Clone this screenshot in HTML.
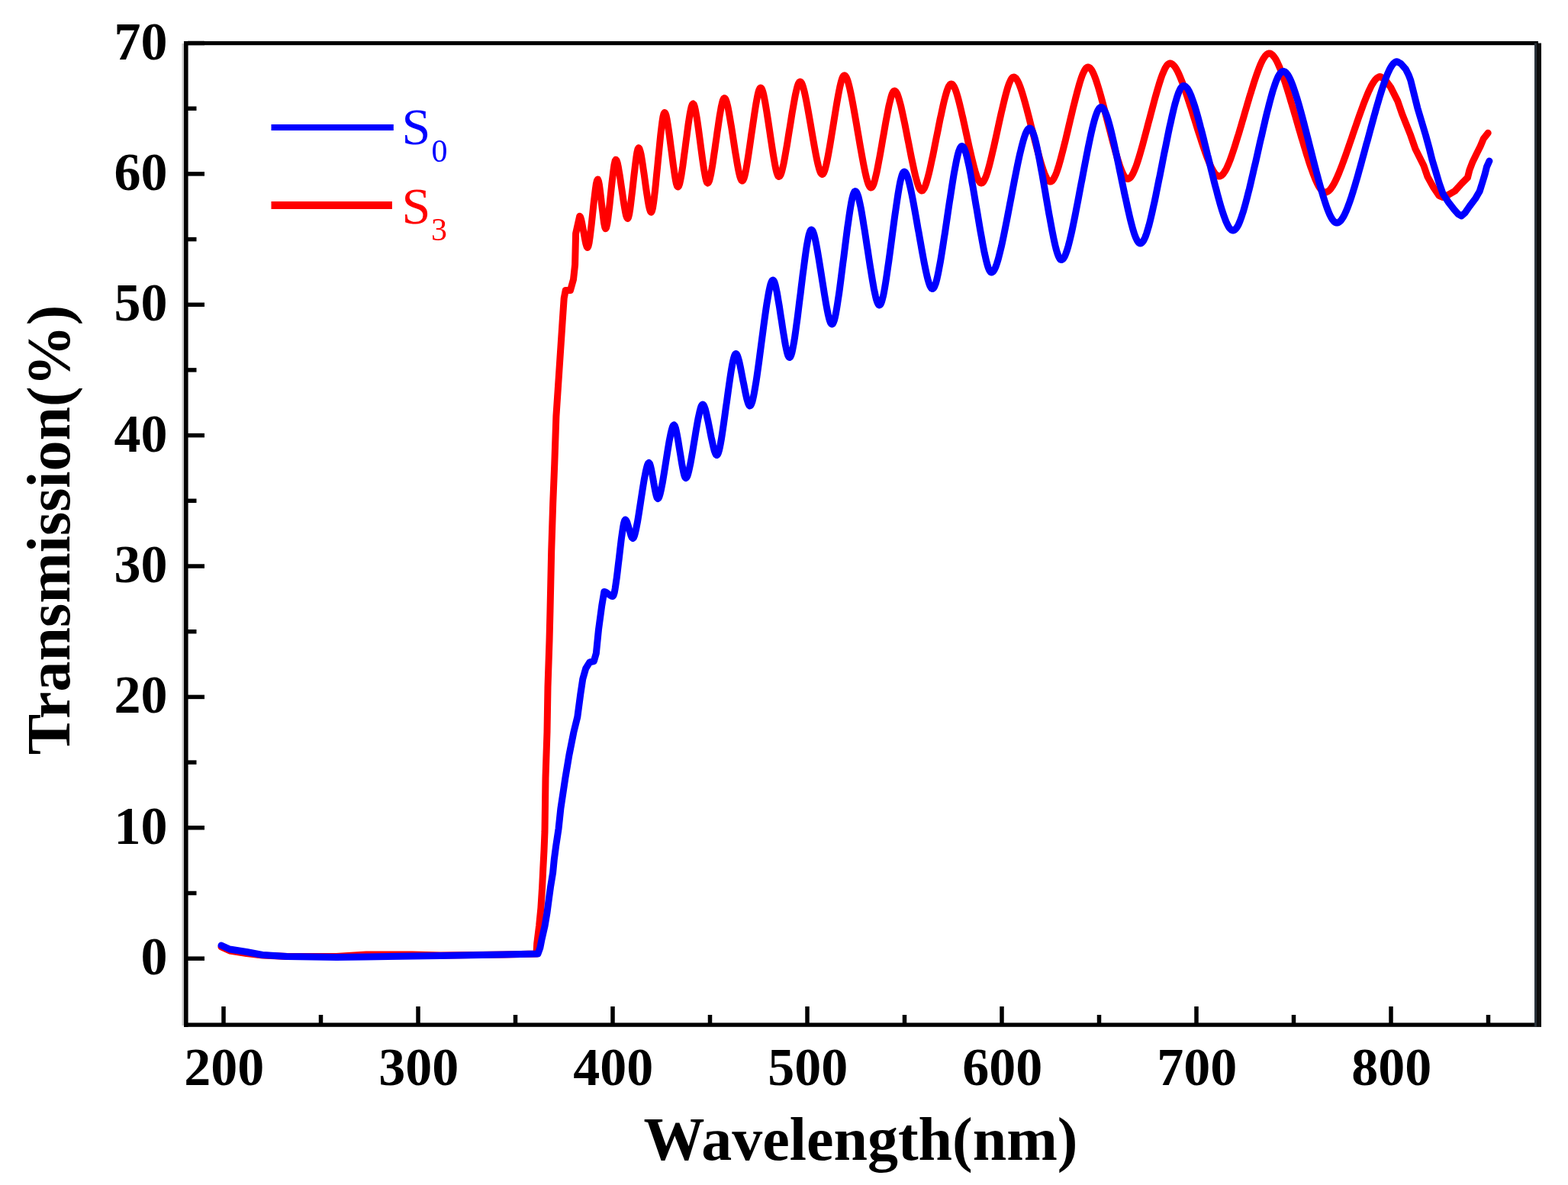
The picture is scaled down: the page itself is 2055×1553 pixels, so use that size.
<!DOCTYPE html>
<html><head><meta charset="utf-8"><style>
html,body{margin:0;padding:0;background:#fff;overflow:hidden;}
svg{display:block;}
text{font-family:"Liberation Serif","Times New Roman",serif;}
</style></head><body>
<svg width="2055" height="1553" viewBox="0 0 2055 1553">
<rect width="2055" height="1553" fill="#fff"/>
<path d="M290.0 1241.0 L301.0 1246.0 L323.0 1249.5 L344.0 1252.0 L376.0 1253.5 L441.0 1253.5 L480.0 1251.0 L540.0 1251.0 L577.0 1252.0 L660.0 1251.0 L703.0 1250.0 L703.7 1236.5 L706.6 1213.3 L708.9 1190.0 L710.7 1161.0 L711.8 1138.0 L713.0 1114.8 L714.0 1089.8 L715.0 1019.4 L717.0 959.5 L718.0 899.7 L720.0 839.9 L721.0 800.0 L722.7 721.9 L724.7 660.0 L726.8 607.4 L728.9 545.6 L733.0 483.7 L737.1 421.9 L739.2 390.9 L741.2 380.6 L747.5 380.6 L751.5 366.2 L753.6 347.0 L754.6 306.0 L759.7 283.3 L760.7 284.6 L761.8 288.1 L762.8 292.8 L763.8 298.2 L764.9 303.9 L765.9 309.6 L766.9 315.0 L767.9 319.7 L769.0 323.2 L770.0 324.5 L771.0 322.8 L772.1 318.1 L773.1 311.2 L774.1 303.0 L775.2 294.0 L776.2 284.5 L777.2 275.0 L778.2 265.5 L779.3 256.5 L780.3 248.3 L781.3 241.4 L782.4 236.7 L783.4 235.0 L784.4 237.1 L785.5 242.5 L786.5 250.0 L787.5 258.5 L788.5 267.4 L789.6 276.3 L790.6 284.8 L791.6 292.3 L792.7 297.7 L793.7 299.8 L794.7 298.1 L795.8 293.3 L796.8 286.3 L797.8 278.0 L798.9 268.9 L799.9 259.3 L800.9 249.7 L801.9 240.1 L803.0 231.0 L804.0 222.7 L805.0 215.7 L806.1 210.9 L807.1 209.2 L808.1 210.3 L809.2 213.4 L810.2 218.1 L811.2 223.9 L812.3 230.3 L813.3 237.2 L814.3 244.2 L815.4 251.4 L816.4 258.4 L817.4 265.3 L818.5 271.7 L819.5 277.5 L820.5 282.2 L821.6 285.3 L822.6 286.4 L823.6 284.9 L824.7 280.6 L825.7 274.3 L826.7 266.6 L827.7 258.2 L828.8 249.2 L829.8 240.0 L830.8 230.9 L831.9 221.9 L832.9 213.5 L833.9 205.8 L834.9 199.5 L836.0 195.2 L837.0 193.7 L838.0 194.8 L839.0 197.8 L840.1 202.4 L841.1 208.1 L842.1 214.5 L843.1 221.4 L844.2 228.6 L845.2 235.9 L846.2 243.3 L847.2 250.5 L848.3 257.4 L849.3 263.8 L850.3 269.5 L851.4 274.1 L852.4 277.1 L853.4 278.2 L854.4 276.7 L855.5 272.5 L856.5 266.1 L857.5 258.1 L858.6 249.0 L859.6 239.1 L860.6 228.7 L861.7 218.1 L862.7 207.5 L863.8 196.9 L864.8 186.5 L865.8 176.6 L866.9 167.5 L867.9 159.5 L868.9 153.1 L870.0 148.9 L871.0 147.4 L872.0 148.5 L873.1 151.6 L874.1 156.4 L875.1 162.4 L876.1 169.2 L877.2 176.6 L878.2 184.3 L879.2 192.2 L880.3 200.2 L881.3 208.1 L882.3 215.8 L883.4 223.2 L884.4 230.0 L885.4 236.0 L886.4 240.8 L887.5 243.9 L888.5 245.0 L889.5 244.0 L890.6 241.2 L891.6 236.8 L892.7 231.2 L893.7 224.7 L894.8 217.7 L895.8 210.2 L896.8 202.4 L897.9 194.5 L898.9 186.5 L900.0 178.6 L901.0 170.8 L902.0 163.3 L903.1 156.3 L904.1 149.8 L905.2 144.2 L906.2 139.8 L907.3 137.0 L908.3 136.0 L909.3 136.9 L910.3 139.6 L911.3 143.8 L912.3 149.2 L913.4 155.3 L914.4 162.1 L915.4 169.2 L916.4 176.6 L917.4 184.2 L918.4 191.8 L919.4 199.4 L920.4 206.8 L921.4 213.9 L922.4 220.7 L923.5 226.8 L924.5 232.2 L925.5 236.4 L926.5 239.1 L927.5 240.0 L928.5 239.2 L929.6 236.8 L930.6 233.0 L931.7 228.2 L932.7 222.5 L933.8 216.2 L934.8 209.5 L935.8 202.5 L936.9 195.3 L937.9 187.9 L939.0 180.6 L940.0 173.2 L941.1 166.0 L942.1 159.0 L943.1 152.3 L944.2 146.0 L945.2 140.3 L946.3 135.5 L947.3 131.7 L948.4 129.3 L949.4 128.5 L950.4 129.2 L951.4 131.1 L952.5 134.2 L953.5 138.3 L954.5 143.0 L955.5 148.4 L956.5 154.1 L957.5 160.2 L958.6 166.5 L959.6 173.0 L960.6 179.5 L961.6 186.0 L962.6 192.5 L963.6 199.0 L964.7 205.3 L965.7 211.4 L966.7 217.1 L967.7 222.5 L968.7 227.2 L969.7 231.3 L970.8 234.4 L971.8 236.3 L972.8 237.0 L973.8 236.3 L974.8 234.3 L975.8 231.1 L976.8 226.9 L977.8 221.8 L978.8 216.2 L979.8 210.1 L980.8 203.6 L981.8 196.9 L982.8 190.1 L983.8 183.1 L984.8 176.0 L985.9 168.9 L986.9 161.9 L987.9 155.1 L988.9 148.4 L989.9 141.9 L990.9 135.8 L991.9 130.2 L992.9 125.1 L993.9 120.9 L994.9 117.7 L995.9 115.7 L996.9 115.0 L997.9 115.7 L998.9 117.6 L999.9 120.7 L1000.9 124.7 L1001.9 129.5 L1002.9 134.9 L1003.9 140.7 L1004.9 146.8 L1005.9 153.3 L1006.9 159.8 L1007.9 166.5 L1008.9 173.2 L1009.9 180.0 L1010.9 186.7 L1011.9 193.2 L1012.9 199.7 L1013.9 205.8 L1014.9 211.6 L1015.9 217.0 L1016.9 221.8 L1017.9 225.8 L1018.9 228.9 L1019.9 230.8 L1020.9 231.5 L1021.9 230.9 L1023.0 229.3 L1024.0 226.7 L1025.0 223.2 L1026.0 219.0 L1027.1 214.2 L1028.1 208.9 L1029.1 203.3 L1030.1 197.5 L1031.2 191.4 L1032.2 185.2 L1033.2 178.8 L1034.2 172.5 L1035.3 166.0 L1036.3 159.7 L1037.3 153.3 L1038.3 147.1 L1039.4 141.0 L1040.4 135.2 L1041.4 129.6 L1042.4 124.3 L1043.5 119.5 L1044.5 115.3 L1045.5 111.8 L1046.5 109.2 L1047.6 107.6 L1048.6 107.0 L1049.6 107.5 L1050.6 108.9 L1051.6 111.1 L1052.6 114.1 L1053.6 117.8 L1054.6 121.9 L1055.6 126.5 L1056.6 131.4 L1057.6 136.6 L1058.6 142.0 L1059.6 147.6 L1060.6 153.3 L1061.6 159.0 L1062.6 164.8 L1063.6 170.7 L1064.6 176.5 L1065.6 182.2 L1066.6 187.9 L1067.6 193.5 L1068.6 198.9 L1069.6 204.1 L1070.6 209.0 L1071.6 213.6 L1072.6 217.7 L1073.6 221.4 L1074.6 224.4 L1075.6 226.6 L1076.6 228.0 L1077.6 228.5 L1078.6 228.0 L1079.6 226.5 L1080.6 224.1 L1081.6 220.9 L1082.6 217.0 L1083.6 212.6 L1084.6 207.7 L1085.6 202.4 L1086.6 196.8 L1087.6 191.1 L1088.6 185.1 L1089.6 179.1 L1090.6 172.9 L1091.6 166.7 L1092.6 160.5 L1093.6 154.3 L1094.6 148.1 L1095.6 142.1 L1096.6 136.1 L1097.6 130.4 L1098.6 124.8 L1099.6 119.5 L1100.6 114.6 L1101.6 110.2 L1102.6 106.3 L1103.6 103.1 L1104.6 100.7 L1105.6 99.2 L1106.6 98.7 L1107.6 99.1 L1108.6 100.3 L1109.6 102.2 L1110.6 104.7 L1111.6 107.9 L1112.6 111.6 L1113.6 115.7 L1114.6 120.2 L1115.6 125.0 L1116.6 130.1 L1117.6 135.4 L1118.6 140.8 L1119.6 146.4 L1120.6 152.0 L1121.6 157.8 L1122.6 163.6 L1123.6 169.4 L1124.6 175.3 L1125.6 181.1 L1126.6 186.9 L1127.6 192.7 L1128.6 198.3 L1129.6 203.9 L1130.6 209.3 L1131.6 214.6 L1132.6 219.7 L1133.6 224.5 L1134.6 229.0 L1135.6 233.1 L1136.6 236.8 L1137.6 240.0 L1138.6 242.5 L1139.6 244.4 L1140.6 245.6 L1141.6 246.0 L1142.6 245.5 L1143.6 244.2 L1144.7 242.0 L1145.7 239.0 L1146.7 235.4 L1147.7 231.3 L1148.8 226.8 L1149.8 221.9 L1150.8 216.7 L1151.8 211.3 L1152.9 205.7 L1153.9 200.0 L1154.9 194.2 L1155.9 188.4 L1156.9 182.5 L1158.0 176.6 L1159.0 170.8 L1160.0 165.0 L1161.0 159.3 L1162.1 153.7 L1163.1 148.3 L1164.1 143.1 L1165.1 138.2 L1166.2 133.7 L1167.2 129.6 L1168.2 126.0 L1169.2 123.0 L1170.3 120.8 L1171.3 119.5 L1172.3 119.0 L1173.3 119.4 L1174.3 120.4 L1175.4 122.1 L1176.4 124.4 L1177.4 127.2 L1178.4 130.5 L1179.4 134.1 L1180.5 138.1 L1181.5 142.4 L1182.5 146.9 L1183.5 151.6 L1184.5 156.4 L1185.6 161.4 L1186.6 166.4 L1187.6 171.5 L1188.6 176.7 L1189.6 181.9 L1190.7 187.1 L1191.7 192.3 L1192.7 197.5 L1193.7 202.6 L1194.7 207.6 L1195.8 212.6 L1196.8 217.4 L1197.8 222.1 L1198.8 226.6 L1199.8 230.9 L1200.9 234.9 L1201.9 238.5 L1202.9 241.8 L1203.9 244.6 L1204.9 246.9 L1206.0 248.6 L1207.0 249.6 L1208.0 250.0 L1209.0 249.7 L1210.0 248.7 L1211.1 247.2 L1212.1 245.1 L1213.1 242.5 L1214.1 239.5 L1215.1 236.0 L1216.1 232.3 L1217.2 228.2 L1218.2 224.0 L1219.2 219.5 L1220.2 214.9 L1221.2 210.1 L1222.3 205.3 L1223.3 200.3 L1224.3 195.3 L1225.3 190.2 L1226.3 185.1 L1227.3 180.0 L1228.4 174.9 L1229.4 169.8 L1230.4 164.7 L1231.4 159.7 L1232.4 154.7 L1233.5 149.9 L1234.5 145.1 L1235.5 140.5 L1236.5 136.0 L1237.5 131.8 L1238.6 127.7 L1239.6 124.0 L1240.6 120.5 L1241.6 117.5 L1242.6 114.9 L1243.6 112.8 L1244.7 111.3 L1245.7 110.3 L1246.7 110.0 L1247.7 110.3 L1248.7 111.1 L1249.7 112.5 L1250.7 114.3 L1251.8 116.6 L1252.8 119.3 L1253.8 122.4 L1254.8 125.7 L1255.8 129.3 L1256.8 133.1 L1257.8 137.1 L1258.8 141.3 L1259.8 145.5 L1260.8 149.9 L1261.9 154.4 L1262.9 158.9 L1263.9 163.5 L1264.9 168.1 L1265.9 172.7 L1266.9 177.3 L1267.9 181.9 L1268.9 186.5 L1269.9 191.1 L1270.9 195.6 L1272.0 200.1 L1273.0 204.5 L1274.0 208.7 L1275.0 212.9 L1276.0 216.9 L1277.0 220.7 L1278.0 224.3 L1279.0 227.6 L1280.0 230.7 L1281.0 233.4 L1282.1 235.7 L1283.1 237.5 L1284.1 238.9 L1285.1 239.7 L1286.1 240.0 L1287.1 239.7 L1288.1 239.0 L1289.1 237.7 L1290.1 236.0 L1291.1 233.8 L1292.2 231.3 L1293.2 228.4 L1294.2 225.3 L1295.2 221.8 L1296.2 218.2 L1297.2 214.4 L1298.2 210.4 L1299.2 206.2 L1300.2 202.0 L1301.2 197.7 L1302.3 193.2 L1303.3 188.8 L1304.3 184.2 L1305.3 179.7 L1306.3 175.1 L1307.3 170.5 L1308.3 165.9 L1309.3 161.3 L1310.3 156.8 L1311.3 152.2 L1312.3 147.8 L1313.4 143.3 L1314.4 139.0 L1315.4 134.8 L1316.4 130.6 L1317.4 126.6 L1318.4 122.8 L1319.4 119.2 L1320.4 115.7 L1321.4 112.6 L1322.4 109.7 L1323.5 107.2 L1324.5 105.0 L1325.5 103.3 L1326.5 102.0 L1327.5 101.3 L1328.5 101.0 L1329.5 101.2 L1330.5 101.8 L1331.5 102.7 L1332.5 104.1 L1333.5 105.7 L1334.5 107.7 L1335.5 109.9 L1336.5 112.4 L1337.5 115.1 L1338.5 118.0 L1339.5 121.1 L1340.5 124.3 L1341.5 127.7 L1342.5 131.2 L1343.5 134.8 L1344.5 138.5 L1345.5 142.2 L1346.5 146.0 L1347.5 149.8 L1348.5 153.7 L1349.5 157.6 L1350.5 161.6 L1351.5 165.5 L1352.5 169.5 L1353.6 173.5 L1354.6 177.4 L1355.6 181.4 L1356.6 185.3 L1357.6 189.2 L1358.6 193.0 L1359.6 196.8 L1360.6 200.5 L1361.6 204.2 L1362.6 207.8 L1363.6 211.3 L1364.6 214.7 L1365.6 217.9 L1366.6 221.0 L1367.6 223.9 L1368.6 226.6 L1369.6 229.1 L1370.6 231.3 L1371.6 233.3 L1372.6 234.9 L1373.6 236.3 L1374.6 237.2 L1375.6 237.8 L1376.6 238.0 L1377.6 237.8 L1378.6 237.2 L1379.6 236.2 L1380.6 234.8 L1381.6 233.0 L1382.6 231.0 L1383.7 228.6 L1384.7 226.0 L1385.7 223.1 L1386.7 220.0 L1387.7 216.8 L1388.7 213.3 L1389.7 209.7 L1390.7 206.0 L1391.7 202.2 L1392.7 198.3 L1393.7 194.3 L1394.7 190.3 L1395.8 186.2 L1396.8 182.0 L1397.8 177.8 L1398.8 173.6 L1399.8 169.4 L1400.8 165.1 L1401.8 160.9 L1402.8 156.6 L1403.8 152.4 L1404.8 148.2 L1405.8 144.0 L1406.8 139.8 L1407.9 135.7 L1408.9 131.7 L1409.9 127.7 L1410.9 123.8 L1411.9 120.0 L1412.9 116.3 L1413.9 112.7 L1414.9 109.2 L1415.9 106.0 L1416.9 102.9 L1417.9 100.0 L1418.9 97.4 L1420.0 95.0 L1421.0 93.0 L1422.0 91.2 L1423.0 89.8 L1424.0 88.8 L1425.0 88.2 L1426.0 88.0 L1427.0 88.2 L1428.0 88.7 L1429.0 89.6 L1430.0 90.8 L1431.0 92.3 L1432.0 94.1 L1433.0 96.2 L1434.0 98.5 L1435.0 101.1 L1436.0 103.8 L1437.0 106.7 L1438.0 109.8 L1439.0 113.0 L1440.0 116.3 L1441.0 119.7 L1442.0 123.2 L1443.0 126.8 L1444.0 130.5 L1445.0 134.2 L1446.0 138.0 L1447.0 141.8 L1448.0 145.7 L1449.0 149.5 L1450.0 153.4 L1451.0 157.3 L1452.0 161.2 L1453.1 165.2 L1454.1 169.1 L1455.1 173.0 L1456.1 176.8 L1457.1 180.7 L1458.1 184.5 L1459.1 188.3 L1460.1 192.0 L1461.1 195.7 L1462.1 199.3 L1463.1 202.8 L1464.1 206.2 L1465.1 209.5 L1466.1 212.7 L1467.1 215.8 L1468.1 218.7 L1469.1 221.4 L1470.1 224.0 L1471.1 226.3 L1472.1 228.4 L1473.1 230.2 L1474.1 231.7 L1475.1 232.9 L1476.1 233.8 L1477.1 234.3 L1478.1 234.5 L1479.1 234.3 L1480.1 233.8 L1481.1 233.0 L1482.1 231.9 L1483.1 230.5 L1484.1 228.8 L1485.1 226.9 L1486.1 224.7 L1487.1 222.3 L1488.2 219.7 L1489.2 217.0 L1490.2 214.1 L1491.2 211.0 L1492.2 207.9 L1493.2 204.6 L1494.2 201.2 L1495.2 197.8 L1496.2 194.3 L1497.2 190.7 L1498.2 187.1 L1499.2 183.4 L1500.2 179.6 L1501.2 175.9 L1502.2 172.1 L1503.2 168.3 L1504.2 164.5 L1505.2 160.7 L1506.3 156.8 L1507.3 153.0 L1508.3 149.2 L1509.3 145.4 L1510.3 141.6 L1511.3 137.9 L1512.3 134.1 L1513.3 130.4 L1514.3 126.8 L1515.3 123.2 L1516.3 119.7 L1517.3 116.3 L1518.3 112.9 L1519.3 109.6 L1520.3 106.5 L1521.3 103.4 L1522.3 100.5 L1523.3 97.8 L1524.4 95.2 L1525.4 92.8 L1526.4 90.6 L1527.4 88.7 L1528.4 87.0 L1529.4 85.6 L1530.4 84.5 L1531.4 83.7 L1532.4 83.2 L1533.4 83.0 L1534.4 83.1 L1535.4 83.5 L1536.4 84.1 L1537.4 84.9 L1538.4 85.9 L1539.5 87.2 L1540.5 88.6 L1541.5 90.2 L1542.5 92.0 L1543.5 93.9 L1544.5 96.0 L1545.5 98.2 L1546.5 100.6 L1547.5 103.0 L1548.5 105.6 L1549.6 108.2 L1550.6 110.9 L1551.6 113.7 L1552.6 116.6 L1553.6 119.5 L1554.6 122.5 L1555.6 125.5 L1556.6 128.5 L1557.6 131.6 L1558.6 134.7 L1559.6 137.8 L1560.7 141.0 L1561.7 144.2 L1562.7 147.4 L1563.7 150.6 L1564.7 153.8 L1565.7 157.0 L1566.7 160.2 L1567.7 163.4 L1568.7 166.6 L1569.7 169.8 L1570.7 173.0 L1571.8 176.2 L1572.8 179.3 L1573.8 182.4 L1574.8 185.5 L1575.8 188.5 L1576.8 191.5 L1577.8 194.5 L1578.8 197.4 L1579.8 200.3 L1580.8 203.1 L1581.8 205.8 L1582.9 208.4 L1583.9 211.0 L1584.9 213.4 L1585.9 215.8 L1586.9 218.0 L1587.9 220.1 L1588.9 222.0 L1589.9 223.8 L1590.9 225.4 L1591.9 226.8 L1593.0 228.1 L1594.0 229.1 L1595.0 229.9 L1596.0 230.5 L1597.0 230.9 L1598.0 231.0 L1599.0 230.9 L1600.0 230.5 L1601.0 229.9 L1602.0 229.0 L1603.0 227.9 L1604.0 226.6 L1605.0 225.1 L1606.0 223.4 L1607.1 221.5 L1608.1 219.4 L1609.1 217.2 L1610.1 214.9 L1611.1 212.4 L1612.1 209.8 L1613.1 207.1 L1614.1 204.3 L1615.1 201.4 L1616.1 198.4 L1617.1 195.4 L1618.1 192.3 L1619.1 189.1 L1620.1 185.9 L1621.1 182.7 L1622.1 179.4 L1623.2 176.1 L1624.2 172.7 L1625.2 169.3 L1626.2 165.9 L1627.2 162.5 L1628.2 159.1 L1629.2 155.7 L1630.2 152.2 L1631.2 148.8 L1632.2 145.3 L1633.2 141.9 L1634.2 138.5 L1635.2 135.1 L1636.2 131.7 L1637.2 128.3 L1638.2 124.9 L1639.3 121.6 L1640.3 118.3 L1641.3 115.1 L1642.3 111.9 L1643.3 108.7 L1644.3 105.6 L1645.3 102.6 L1646.3 99.6 L1647.3 96.7 L1648.3 93.9 L1649.3 91.2 L1650.3 88.6 L1651.3 86.1 L1652.3 83.8 L1653.3 81.6 L1654.3 79.5 L1655.4 77.6 L1656.4 75.9 L1657.4 74.4 L1658.4 73.1 L1659.4 72.0 L1660.4 71.1 L1661.4 70.5 L1662.4 70.1 L1663.4 70.0 L1664.4 70.1 L1665.4 70.4 L1666.4 71.0 L1667.4 71.8 L1668.4 72.8 L1669.4 74.0 L1670.5 75.3 L1671.5 76.9 L1672.5 78.6 L1673.5 80.5 L1674.5 82.6 L1675.5 84.8 L1676.5 87.1 L1677.5 89.5 L1678.5 92.1 L1679.5 94.7 L1680.5 97.5 L1681.5 100.3 L1682.6 103.2 L1683.6 106.2 L1684.6 109.2 L1685.6 112.3 L1686.6 115.5 L1687.6 118.7 L1688.6 121.9 L1689.6 125.2 L1690.6 128.5 L1691.6 131.9 L1692.6 135.2 L1693.6 138.6 L1694.7 142.0 L1695.7 145.5 L1696.7 148.9 L1697.7 152.3 L1698.7 155.8 L1699.7 159.3 L1700.7 162.7 L1701.7 166.2 L1702.7 169.7 L1703.7 173.1 L1704.7 176.5 L1705.7 180.0 L1706.8 183.4 L1707.8 186.8 L1708.8 190.1 L1709.8 193.5 L1710.8 196.8 L1711.8 200.1 L1712.8 203.3 L1713.8 206.5 L1714.8 209.7 L1715.8 212.8 L1716.8 215.8 L1717.8 218.8 L1718.9 221.7 L1719.9 224.5 L1720.9 227.3 L1721.9 229.9 L1722.9 232.5 L1723.9 234.9 L1724.9 237.2 L1725.9 239.4 L1726.9 241.5 L1727.9 243.4 L1728.9 245.1 L1729.9 246.7 L1731.0 248.0 L1732.0 249.2 L1733.0 250.2 L1734.0 251.0 L1735.0 251.6 L1736.0 251.9 L1737.0 252.0 L1738.0 251.9 L1739.0 251.6 L1740.0 251.1 L1741.0 250.5 L1742.0 249.6 L1743.0 248.6 L1744.0 247.4 L1745.0 246.1 L1746.0 244.6 L1747.0 243.0 L1748.0 241.3 L1749.0 239.4 L1750.0 237.4 L1751.0 235.3 L1752.0 233.2 L1753.0 230.9 L1754.0 228.6 L1755.0 226.2 L1756.0 223.7 L1757.0 221.2 L1758.0 218.6 L1759.0 216.0 L1760.0 213.3 L1761.0 210.6 L1762.0 207.8 L1763.0 205.1 L1764.0 202.3 L1765.0 199.4 L1766.0 196.6 L1767.0 193.7 L1768.0 190.8 L1769.0 187.9 L1770.0 185.0 L1771.0 182.1 L1772.0 179.2 L1773.0 176.2 L1774.0 173.3 L1775.0 170.4 L1776.0 167.5 L1777.0 164.6 L1778.0 161.7 L1779.0 158.8 L1780.0 155.9 L1781.0 153.1 L1782.0 150.2 L1783.0 147.4 L1784.0 144.7 L1785.0 141.9 L1786.0 139.2 L1787.0 136.5 L1788.0 133.9 L1789.0 131.3 L1790.0 128.8 L1791.0 126.3 L1792.0 123.9 L1793.0 121.6 L1794.0 119.3 L1795.0 117.2 L1796.0 115.1 L1797.0 113.1 L1798.0 111.2 L1799.0 109.5 L1800.0 107.9 L1801.0 106.4 L1802.0 105.1 L1803.0 103.9 L1804.0 102.9 L1805.0 102.0 L1806.0 101.4 L1807.0 100.9 L1808.0 100.6 L1809.0 100.5 L1815.0 104.0 L1822.5 114.1 L1831.6 132.1 L1837.9 150.2 L1843.3 163.7 L1848.7 177.2 L1855.0 195.3 L1865.9 217.0 L1871.1 231.9 L1878.5 245.2 L1885.9 256.3 L1891.1 258.5 L1896.0 256.5 L1901.5 253.3 L1906.7 250.4 L1915.9 240.3 L1923.4 232.8 L1925.9 222.8 L1930.1 211.9 L1935.1 201.8 L1940.1 191.8 L1944.3 181.8 L1950.2 174.2" fill="none" stroke="#ff0000" stroke-width="9" stroke-linejoin="round" stroke-linecap="round"/>
<path d="M290.0 1239.0 L301.0 1244.0 L323.0 1247.5 L344.0 1251.5 L376.0 1253.5 L441.0 1254.5 L480.0 1254.0 L577.0 1252.5 L660.0 1251.0 L705.0 1250.0 L707.8 1242.3 L710.1 1230.7 L714.1 1213.3 L717.0 1196.0 L719.3 1178.6 L721.7 1161.2 L724.6 1143.8 L726.3 1126.4 L728.6 1109.0 L732.1 1085.8 L734.9 1059.3 L740.9 1019.4 L745.9 989.5 L751.9 959.5 L756.8 939.6 L760.8 909.7 L763.8 889.7 L767.8 875.8 L772.8 867.8 L778.4 866.5 L781.4 855.9 L784.5 825.0 L788.7 794.0 L791.8 775.5 L792.8 775.7 L793.9 776.1 L794.9 776.7 L795.9 777.4 L796.9 778.2 L798.0 778.9 L799.0 779.7 L800.0 780.4 L801.0 781.0 L802.1 781.4 L803.1 781.6 L804.1 780.3 L805.2 776.7 L806.2 771.2 L807.2 764.5 L808.3 756.8 L809.3 748.6 L810.3 740.0 L811.4 731.3 L812.4 722.6 L813.4 714.0 L814.4 705.8 L815.5 698.1 L816.5 691.4 L817.5 685.9 L818.6 682.3 L819.6 681.0 L820.7 682.0 L821.8 684.4 L822.8 687.7 L823.9 691.4 L825.0 695.1 L826.1 698.8 L827.1 702.1 L828.2 704.5 L829.3 705.5 L830.3 704.8 L831.3 702.6 L832.3 699.3 L833.3 695.0 L834.3 690.0 L835.4 684.4 L836.4 678.4 L837.4 672.2 L838.4 665.8 L839.4 659.3 L840.4 652.7 L841.4 646.2 L842.4 639.8 L843.4 633.6 L844.4 627.6 L845.5 622.0 L846.5 617.0 L847.5 612.7 L848.5 609.4 L849.5 607.2 L850.5 606.5 L851.6 607.7 L852.6 611.1 L853.7 615.8 L854.7 621.2 L855.8 627.0 L856.8 633.0 L857.9 638.8 L858.9 644.2 L860.0 648.9 L861.0 652.3 L862.1 653.5 L863.1 652.8 L864.1 650.7 L865.1 647.5 L866.1 643.3 L867.1 638.4 L868.2 632.9 L869.2 627.1 L870.2 621.0 L871.2 614.8 L872.2 608.4 L873.2 602.1 L874.2 595.7 L875.2 589.5 L876.2 583.4 L877.2 577.6 L878.3 572.1 L879.3 567.2 L880.3 563.0 L881.3 559.8 L882.3 557.7 L883.3 557.0 L884.3 558.0 L885.4 560.8 L886.4 565.0 L887.4 570.2 L888.5 576.0 L889.5 582.2 L890.5 588.5 L891.6 595.0 L892.6 601.3 L893.6 607.5 L894.7 613.3 L895.7 618.5 L896.7 622.7 L897.8 625.5 L898.8 626.5 L899.8 625.8 L900.8 624.0 L901.8 621.0 L902.8 617.1 L903.8 612.5 L904.9 607.5 L905.9 602.0 L906.9 596.3 L907.9 590.4 L908.9 584.3 L909.9 578.2 L910.9 572.2 L911.9 566.1 L912.9 560.2 L913.9 554.5 L914.9 549.0 L916.0 544.0 L917.0 539.4 L918.0 535.5 L919.0 532.5 L920.0 530.7 L921.0 530.0 L922.0 530.7 L923.0 532.6 L924.1 535.5 L925.1 539.3 L926.1 543.5 L927.1 548.2 L928.2 553.1 L929.2 558.1 L930.2 563.2 L931.2 568.4 L932.2 573.4 L933.3 578.3 L934.3 583.0 L935.3 587.2 L936.3 591.0 L937.4 593.9 L938.4 595.8 L939.4 596.5 L940.4 595.8 L941.4 593.8 L942.4 590.5 L943.4 586.2 L944.4 581.1 L945.4 575.4 L946.4 569.1 L947.4 562.4 L948.4 555.5 L949.4 548.3 L950.4 541.1 L951.4 533.7 L952.5 526.3 L953.5 518.9 L954.5 511.7 L955.5 504.5 L956.5 497.6 L957.5 490.9 L958.5 484.6 L959.5 478.9 L960.5 473.8 L961.5 469.5 L962.5 466.2 L963.5 464.2 L964.5 463.5 L965.5 464.2 L966.5 466.2 L967.5 469.2 L968.6 473.0 L969.6 477.4 L970.6 482.2 L971.6 487.3 L972.6 492.5 L973.6 497.8 L974.7 503.0 L975.7 508.2 L976.7 513.3 L977.7 518.1 L978.7 522.5 L979.8 526.3 L980.8 529.3 L981.8 531.3 L982.8 532.0 L983.8 531.4 L984.8 529.6 L985.8 526.8 L986.8 522.9 L987.8 518.3 L988.8 512.9 L989.8 507.0 L990.9 500.6 L991.9 493.9 L992.9 486.9 L993.9 479.7 L994.9 472.3 L995.9 464.7 L996.9 457.1 L997.9 449.5 L998.9 441.9 L999.9 434.3 L1000.9 426.7 L1001.9 419.3 L1002.9 412.1 L1003.9 405.1 L1004.9 398.4 L1006.0 392.0 L1007.0 386.1 L1008.0 380.7 L1009.0 376.1 L1010.0 372.2 L1011.0 369.4 L1012.0 367.6 L1013.0 367.0 L1014.0 367.8 L1015.1 369.9 L1016.1 373.3 L1017.1 377.8 L1018.2 382.9 L1019.2 388.6 L1020.2 394.7 L1021.3 401.1 L1022.3 407.7 L1023.3 414.4 L1024.4 421.1 L1025.4 427.8 L1026.4 434.4 L1027.5 440.8 L1028.5 446.9 L1029.5 452.6 L1030.6 457.7 L1031.6 462.2 L1032.6 465.6 L1033.7 467.7 L1034.7 468.5 L1035.7 467.8 L1036.8 465.7 L1037.8 462.4 L1038.8 458.0 L1039.8 452.7 L1040.9 446.6 L1041.9 440.0 L1042.9 432.8 L1043.9 425.3 L1045.0 417.5 L1046.0 409.5 L1047.0 401.3 L1048.0 393.1 L1049.1 384.8 L1050.1 376.4 L1051.1 368.2 L1052.1 360.0 L1053.2 352.0 L1054.2 344.2 L1055.2 336.7 L1056.2 329.5 L1057.2 322.9 L1058.3 316.8 L1059.3 311.5 L1060.3 307.1 L1061.4 303.8 L1062.4 301.7 L1063.4 301.0 L1064.4 301.6 L1065.4 303.2 L1066.4 305.8 L1067.4 309.3 L1068.4 313.5 L1069.4 318.3 L1070.4 323.5 L1071.4 329.1 L1072.4 334.9 L1073.4 340.9 L1074.4 347.2 L1075.4 353.5 L1076.4 359.8 L1077.4 366.2 L1078.4 372.5 L1079.4 378.8 L1080.4 385.1 L1081.4 391.1 L1082.4 396.9 L1083.4 402.5 L1084.4 407.7 L1085.4 412.5 L1086.4 416.7 L1087.4 420.2 L1088.4 422.8 L1089.4 424.4 L1090.4 425.0 L1091.4 424.4 L1092.4 422.5 L1093.5 419.5 L1094.5 415.4 L1095.5 410.5 L1096.5 404.8 L1097.5 398.6 L1098.5 391.8 L1099.6 384.7 L1100.6 377.3 L1101.6 369.6 L1102.6 361.8 L1103.6 353.9 L1104.6 345.8 L1105.7 337.8 L1106.7 329.7 L1107.7 321.6 L1108.7 313.7 L1109.7 305.9 L1110.7 298.2 L1111.8 290.8 L1112.8 283.7 L1113.8 276.9 L1114.8 270.7 L1115.8 265.0 L1116.8 260.1 L1117.9 256.0 L1118.9 253.0 L1119.9 251.1 L1120.9 250.5 L1121.9 251.0 L1122.9 252.5 L1124.0 255.0 L1125.0 258.2 L1126.0 262.2 L1127.0 266.8 L1128.1 271.9 L1129.1 277.4 L1130.1 283.2 L1131.1 289.3 L1132.1 295.6 L1133.2 302.0 L1134.2 308.6 L1135.2 315.2 L1136.2 321.9 L1137.3 328.6 L1138.3 335.3 L1139.3 341.9 L1140.3 348.5 L1141.4 354.9 L1142.4 361.2 L1143.4 367.3 L1144.4 373.1 L1145.4 378.6 L1146.5 383.7 L1147.5 388.3 L1148.5 392.3 L1149.5 395.5 L1150.6 398.0 L1151.6 399.5 L1152.6 400.0 L1153.6 399.4 L1154.6 397.8 L1155.6 395.1 L1156.6 391.5 L1157.7 387.1 L1158.7 382.0 L1159.7 376.3 L1160.7 370.2 L1161.7 363.7 L1162.7 356.8 L1163.7 349.8 L1164.8 342.5 L1165.8 335.1 L1166.8 327.7 L1167.8 320.1 L1168.8 312.5 L1169.8 304.9 L1170.8 297.3 L1171.8 289.9 L1172.8 282.5 L1173.9 275.2 L1174.9 268.2 L1175.9 261.3 L1176.9 254.8 L1177.9 248.7 L1178.9 243.0 L1179.9 237.9 L1181.0 233.5 L1182.0 229.9 L1183.0 227.2 L1184.0 225.6 L1185.0 225.0 L1186.0 225.4 L1187.0 226.5 L1188.0 228.2 L1189.0 230.7 L1190.0 233.7 L1191.0 237.1 L1192.0 241.1 L1193.0 245.4 L1194.0 250.0 L1195.0 254.8 L1196.0 259.9 L1197.0 265.2 L1198.0 270.6 L1199.0 276.1 L1200.0 281.7 L1201.0 287.4 L1202.0 293.1 L1203.0 298.9 L1204.1 304.6 L1205.1 310.4 L1206.1 316.1 L1207.1 321.8 L1208.1 327.4 L1209.1 332.9 L1210.1 338.3 L1211.1 343.6 L1212.1 348.7 L1213.1 353.5 L1214.1 358.1 L1215.1 362.4 L1216.1 366.4 L1217.1 369.8 L1218.1 372.8 L1219.1 375.3 L1220.1 377.0 L1221.1 378.1 L1222.1 378.5 L1223.1 378.1 L1224.1 376.8 L1225.1 374.7 L1226.2 371.9 L1227.2 368.5 L1228.2 364.4 L1229.2 359.8 L1230.2 354.8 L1231.2 349.4 L1232.3 343.7 L1233.3 337.8 L1234.3 331.6 L1235.3 325.2 L1236.3 318.7 L1237.3 312.1 L1238.4 305.4 L1239.4 298.6 L1240.4 291.8 L1241.4 285.0 L1242.4 278.2 L1243.4 271.4 L1244.4 264.6 L1245.5 257.9 L1246.5 251.3 L1247.5 244.8 L1248.5 238.4 L1249.5 232.2 L1250.5 226.3 L1251.6 220.6 L1252.6 215.2 L1253.6 210.2 L1254.6 205.6 L1255.6 201.5 L1256.6 198.1 L1257.7 195.3 L1258.7 193.2 L1259.7 191.9 L1260.7 191.5 L1261.7 191.9 L1262.7 193.0 L1263.8 194.8 L1264.8 197.3 L1265.8 200.4 L1266.8 204.0 L1267.8 208.0 L1268.8 212.4 L1269.9 217.2 L1270.9 222.3 L1271.9 227.5 L1272.9 233.0 L1273.9 238.6 L1275.0 244.4 L1276.0 250.2 L1277.0 256.2 L1278.0 262.2 L1279.0 268.2 L1280.1 274.2 L1281.1 280.3 L1282.1 286.3 L1283.1 292.3 L1284.1 298.3 L1285.1 304.1 L1286.2 309.9 L1287.2 315.5 L1288.2 321.0 L1289.2 326.2 L1290.2 331.3 L1291.3 336.1 L1292.3 340.5 L1293.3 344.5 L1294.3 348.1 L1295.3 351.2 L1296.3 353.7 L1297.4 355.5 L1298.4 356.6 L1299.4 357.0 L1300.4 356.8 L1301.4 356.0 L1302.4 354.8 L1303.4 353.1 L1304.4 351.0 L1305.4 348.5 L1306.4 345.6 L1307.4 342.4 L1308.4 338.9 L1309.4 335.2 L1310.4 331.2 L1311.4 327.0 L1312.5 322.6 L1313.5 318.0 L1314.5 313.4 L1315.5 308.6 L1316.5 303.7 L1317.5 298.7 L1318.5 293.7 L1319.5 288.6 L1320.5 283.4 L1321.5 278.2 L1322.5 273.0 L1323.5 267.7 L1324.5 262.5 L1325.5 257.3 L1326.5 252.0 L1327.5 246.8 L1328.5 241.6 L1329.5 236.4 L1330.5 231.3 L1331.5 226.3 L1332.5 221.3 L1333.5 216.4 L1334.5 211.6 L1335.5 207.0 L1336.5 202.4 L1337.6 198.0 L1338.6 193.8 L1339.6 189.8 L1340.6 186.1 L1341.6 182.6 L1342.6 179.4 L1343.6 176.5 L1344.6 174.0 L1345.6 171.9 L1346.6 170.2 L1347.6 169.0 L1348.6 168.2 L1349.6 168.0 L1350.6 168.3 L1351.6 169.3 L1352.6 171.0 L1353.6 173.2 L1354.6 176.0 L1355.7 179.3 L1356.7 183.0 L1357.7 187.1 L1358.7 191.5 L1359.7 196.2 L1360.7 201.1 L1361.7 206.2 L1362.7 211.5 L1363.7 217.0 L1364.7 222.5 L1365.8 228.2 L1366.8 233.9 L1367.8 239.7 L1368.8 245.5 L1369.8 251.3 L1370.8 257.2 L1371.8 263.0 L1372.8 268.8 L1373.8 274.6 L1374.8 280.3 L1375.9 286.0 L1376.9 291.5 L1377.9 297.0 L1378.9 302.3 L1379.9 307.4 L1380.9 312.3 L1381.9 317.0 L1382.9 321.4 L1383.9 325.5 L1384.9 329.2 L1386.0 332.5 L1387.0 335.3 L1388.0 337.5 L1389.0 339.2 L1390.0 340.2 L1391.0 340.5 L1392.0 340.3 L1393.0 339.5 L1394.0 338.3 L1395.0 336.7 L1396.0 334.6 L1397.0 332.1 L1398.0 329.3 L1399.0 326.1 L1400.0 322.7 L1401.0 318.9 L1402.0 315.0 L1403.0 310.8 L1404.0 306.4 L1405.0 301.9 L1406.0 297.2 L1407.0 292.4 L1408.0 287.5 L1409.0 282.5 L1410.0 277.4 L1411.0 272.2 L1412.0 267.0 L1413.0 261.8 L1414.0 256.5 L1415.0 251.2 L1416.0 245.8 L1417.0 240.5 L1418.1 235.2 L1419.1 229.8 L1420.1 224.5 L1421.1 219.2 L1422.1 214.0 L1423.1 208.8 L1424.1 203.6 L1425.1 198.5 L1426.1 193.5 L1427.1 188.6 L1428.1 183.8 L1429.1 179.1 L1430.1 174.6 L1431.1 170.2 L1432.1 166.0 L1433.1 162.1 L1434.1 158.3 L1435.1 154.9 L1436.1 151.7 L1437.1 148.9 L1438.1 146.4 L1439.1 144.3 L1440.1 142.7 L1441.1 141.5 L1442.1 140.7 L1443.1 140.5 L1444.1 140.7 L1445.1 141.4 L1446.1 142.5 L1447.1 144.0 L1448.1 146.0 L1449.1 148.2 L1450.2 150.9 L1451.2 153.8 L1452.2 157.0 L1453.2 160.4 L1454.2 164.1 L1455.2 167.9 L1456.2 171.9 L1457.2 176.1 L1458.2 180.4 L1459.2 184.8 L1460.2 189.3 L1461.2 193.9 L1462.2 198.5 L1463.3 203.2 L1464.3 208.0 L1465.3 212.8 L1466.3 217.6 L1467.3 222.5 L1468.3 227.3 L1469.3 232.2 L1470.3 237.0 L1471.3 241.9 L1472.3 246.7 L1473.3 251.5 L1474.3 256.3 L1475.4 261.0 L1476.4 265.6 L1477.4 270.2 L1478.4 274.7 L1479.4 279.1 L1480.4 283.4 L1481.4 287.6 L1482.4 291.6 L1483.4 295.4 L1484.4 299.1 L1485.4 302.5 L1486.4 305.7 L1487.4 308.6 L1488.5 311.3 L1489.5 313.5 L1490.5 315.5 L1491.5 317.0 L1492.5 318.1 L1493.5 318.8 L1494.5 319.0 L1495.5 318.8 L1496.5 318.1 L1497.5 317.1 L1498.6 315.6 L1499.6 313.7 L1500.6 311.5 L1501.6 309.0 L1502.6 306.1 L1503.6 302.9 L1504.6 299.5 L1505.7 295.9 L1506.7 292.0 L1507.7 288.0 L1508.7 283.8 L1509.7 279.5 L1510.7 275.0 L1511.7 270.4 L1512.8 265.7 L1513.8 261.0 L1514.8 256.1 L1515.8 251.2 L1516.8 246.2 L1517.8 241.2 L1518.8 236.2 L1519.9 231.1 L1520.9 226.0 L1521.9 220.9 L1522.9 215.8 L1523.9 210.6 L1524.9 205.5 L1525.9 200.4 L1527.0 195.3 L1528.0 190.3 L1529.0 185.3 L1530.0 180.3 L1531.0 175.4 L1532.0 170.5 L1533.0 165.8 L1534.1 161.1 L1535.1 156.5 L1536.1 152.0 L1537.1 147.7 L1538.1 143.5 L1539.1 139.5 L1540.1 135.6 L1541.2 132.0 L1542.2 128.6 L1543.2 125.4 L1544.2 122.5 L1545.2 120.0 L1546.2 117.8 L1547.2 115.9 L1548.3 114.4 L1549.3 113.4 L1550.3 112.7 L1551.3 112.5 L1552.3 112.7 L1553.3 113.1 L1554.3 113.9 L1555.3 114.9 L1556.4 116.2 L1557.4 117.8 L1558.4 119.7 L1559.4 121.7 L1560.4 124.0 L1561.4 126.5 L1562.4 129.2 L1563.4 132.0 L1564.4 135.0 L1565.5 138.2 L1566.5 141.4 L1567.5 144.8 L1568.5 148.3 L1569.5 151.8 L1570.5 155.5 L1571.5 159.2 L1572.5 163.0 L1573.5 166.9 L1574.6 170.8 L1575.6 174.7 L1576.6 178.7 L1577.6 182.7 L1578.6 186.8 L1579.6 190.8 L1580.6 194.9 L1581.6 199.0 L1582.6 203.1 L1583.7 207.2 L1584.7 211.4 L1585.7 215.5 L1586.7 219.6 L1587.7 223.7 L1588.7 227.7 L1589.7 231.8 L1590.7 235.8 L1591.7 239.8 L1592.7 243.7 L1593.8 247.6 L1594.8 251.5 L1595.8 255.3 L1596.8 259.0 L1597.8 262.7 L1598.8 266.2 L1599.8 269.7 L1600.8 273.1 L1601.8 276.3 L1602.9 279.5 L1603.9 282.5 L1604.9 285.3 L1605.9 288.0 L1606.9 290.5 L1607.9 292.8 L1608.9 294.8 L1609.9 296.7 L1610.9 298.3 L1612.0 299.6 L1613.0 300.6 L1614.0 301.4 L1615.0 301.8 L1616.0 302.0 L1617.0 301.8 L1618.0 301.4 L1619.0 300.5 L1620.0 299.4 L1621.1 298.0 L1622.1 296.3 L1623.1 294.4 L1624.1 292.1 L1625.1 289.7 L1626.1 287.0 L1627.1 284.2 L1628.1 281.1 L1629.2 277.9 L1630.2 274.5 L1631.2 271.0 L1632.2 267.4 L1633.2 263.6 L1634.2 259.8 L1635.2 255.9 L1636.2 251.9 L1637.3 247.8 L1638.3 243.6 L1639.3 239.4 L1640.3 235.1 L1641.3 230.8 L1642.3 226.5 L1643.3 222.1 L1644.3 217.7 L1645.4 213.3 L1646.4 208.9 L1647.4 204.4 L1648.4 200.0 L1649.4 195.5 L1650.4 191.1 L1651.4 186.6 L1652.4 182.2 L1653.5 177.8 L1654.5 173.4 L1655.5 169.0 L1656.5 164.7 L1657.5 160.4 L1658.5 156.1 L1659.5 151.9 L1660.5 147.7 L1661.6 143.6 L1662.6 139.6 L1663.6 135.7 L1664.6 131.9 L1665.6 128.1 L1666.6 124.5 L1667.6 121.0 L1668.6 117.6 L1669.7 114.4 L1670.7 111.3 L1671.7 108.5 L1672.7 105.8 L1673.7 103.4 L1674.7 101.1 L1675.7 99.2 L1676.7 97.5 L1677.8 96.1 L1678.8 95.0 L1679.8 94.1 L1680.8 93.7 L1681.8 93.5 L1682.8 93.6 L1683.8 94.0 L1684.8 94.7 L1685.8 95.6 L1686.8 96.8 L1687.8 98.2 L1688.8 99.8 L1689.8 101.6 L1690.8 103.7 L1691.8 105.9 L1692.8 108.3 L1693.8 110.9 L1694.8 113.6 L1695.8 116.4 L1696.8 119.4 L1697.8 122.5 L1698.8 125.7 L1699.9 129.0 L1700.9 132.4 L1701.9 135.8 L1702.9 139.3 L1703.9 142.9 L1704.9 146.5 L1705.9 150.2 L1706.9 154.0 L1707.9 157.7 L1708.9 161.5 L1709.9 165.4 L1710.9 169.2 L1711.9 173.1 L1712.9 177.0 L1713.9 180.9 L1714.9 184.9 L1715.9 188.8 L1716.9 192.8 L1717.9 196.7 L1718.9 200.6 L1719.9 204.6 L1720.9 208.5 L1721.9 212.4 L1722.9 216.3 L1723.9 220.1 L1724.9 224.0 L1725.9 227.8 L1726.9 231.5 L1727.9 235.3 L1728.9 239.0 L1729.9 242.6 L1730.9 246.2 L1731.9 249.7 L1732.9 253.1 L1733.9 256.5 L1735.0 259.8 L1736.0 263.0 L1737.0 266.1 L1738.0 269.1 L1739.0 271.9 L1740.0 274.6 L1741.0 277.2 L1742.0 279.6 L1743.0 281.8 L1744.0 283.9 L1745.0 285.7 L1746.0 287.3 L1747.0 288.7 L1748.0 289.9 L1749.0 290.8 L1750.0 291.5 L1751.0 291.9 L1752.0 292.0 L1753.0 291.9 L1754.0 291.6 L1755.0 291.0 L1756.0 290.2 L1757.0 289.3 L1758.0 288.1 L1759.0 286.7 L1760.0 285.1 L1761.0 283.4 L1762.0 281.5 L1763.0 279.4 L1764.0 277.2 L1765.0 274.8 L1766.0 272.3 L1767.0 269.7 L1768.0 267.0 L1769.0 264.2 L1770.0 261.3 L1771.0 258.3 L1772.0 255.2 L1773.0 252.1 L1774.0 248.8 L1775.0 245.6 L1776.0 242.2 L1777.0 238.8 L1778.0 235.4 L1779.0 231.9 L1780.0 228.4 L1781.0 224.8 L1782.0 221.3 L1783.0 217.7 L1784.0 214.0 L1785.0 210.4 L1786.0 206.7 L1787.0 203.0 L1788.0 199.3 L1789.0 195.6 L1790.0 191.9 L1791.0 188.2 L1792.1 184.5 L1793.1 180.8 L1794.1 177.1 L1795.1 173.4 L1796.1 169.7 L1797.1 166.0 L1798.1 162.3 L1799.1 158.7 L1800.1 155.0 L1801.1 151.4 L1802.1 147.9 L1803.1 144.3 L1804.1 140.8 L1805.1 137.3 L1806.1 133.9 L1807.1 130.5 L1808.1 127.1 L1809.1 123.9 L1810.1 120.6 L1811.1 117.5 L1812.1 114.4 L1813.1 111.4 L1814.1 108.5 L1815.1 105.7 L1816.1 103.0 L1817.1 100.4 L1818.1 97.9 L1819.1 95.5 L1820.1 93.3 L1821.1 91.2 L1822.1 89.3 L1823.1 87.6 L1824.1 86.0 L1825.1 84.6 L1826.1 83.4 L1827.1 82.5 L1828.1 81.7 L1829.1 81.1 L1830.1 80.8 L1831.1 80.7 L1836.0 83.4 L1842.4 90.7 L1846.0 97.9 L1848.7 105.0 L1853.2 123.1 L1857.7 141.2 L1863.1 159.2 L1868.5 177.2 L1873.3 194.8 L1877.0 209.6 L1881.5 224.4 L1885.9 239.3 L1891.1 254.1 L1898.5 265.2 L1905.9 274.8 L1911.0 280.5 L1915.5 283.0 L1920.0 279.0 L1925.9 270.5 L1933.5 260.4 L1939.3 250.4 L1942.7 239.5 L1946.0 228.6 L1948.5 218.6 L1951.9 211.0" fill="none" stroke="#0000ff" stroke-width="9" stroke-linejoin="round" stroke-linecap="round"/>
<rect x="238.5" y="57" width="2.5" height="1287" fill="#c8c8c8"/>
<rect x="241" y="54" width="5.6" height="1292" fill="#000"/>
<rect x="241" y="54" width="1775" height="5.2" fill="#000"/>
<rect x="241" y="1340.4" width="1779" height="5.4" fill="#000"/>
<rect x="2011" y="56.5" width="3" height="1289" fill="#2a323a"/>
<rect x="2014" y="56.5" width="6" height="1289" fill="#0d0d0d"/>
<g stroke="#000" stroke-width="5.5"><line x1="246" y1="1256.2" x2="268" y2="1256.2"/><line x1="246" y1="1084.8" x2="268" y2="1084.8"/><line x1="246" y1="913.4" x2="268" y2="913.4"/><line x1="246" y1="742.0" x2="268" y2="742.0"/><line x1="246" y1="570.6" x2="268" y2="570.6"/><line x1="246" y1="399.3" x2="268" y2="399.3"/><line x1="246" y1="227.9" x2="268" y2="227.9"/><line x1="246" y1="56.5" x2="268" y2="56.5"/><line x1="246" y1="1170.5" x2="257.5" y2="1170.5"/><line x1="246" y1="999.1" x2="257.5" y2="999.1"/><line x1="246" y1="827.7" x2="257.5" y2="827.7"/><line x1="246" y1="656.3" x2="257.5" y2="656.3"/><line x1="246" y1="484.9" x2="257.5" y2="484.9"/><line x1="246" y1="313.6" x2="257.5" y2="313.6"/><line x1="246" y1="142.2" x2="257.5" y2="142.2"/><line x1="293.0" y1="1341" x2="293.0" y2="1319"/><line x1="548.0" y1="1341" x2="548.0" y2="1319"/><line x1="803.0" y1="1341" x2="803.0" y2="1319"/><line x1="1058.0" y1="1341" x2="1058.0" y2="1319"/><line x1="1313.0" y1="1341" x2="1313.0" y2="1319"/><line x1="1568.0" y1="1341" x2="1568.0" y2="1319"/><line x1="1823.0" y1="1341" x2="1823.0" y2="1319"/><line x1="420.5" y1="1341" x2="420.5" y2="1330"/><line x1="675.5" y1="1341" x2="675.5" y2="1330"/><line x1="930.5" y1="1341" x2="930.5" y2="1330"/><line x1="1185.5" y1="1341" x2="1185.5" y2="1330"/><line x1="1440.5" y1="1341" x2="1440.5" y2="1330"/><line x1="1695.5" y1="1341" x2="1695.5" y2="1330"/><line x1="1950.5" y1="1341" x2="1950.5" y2="1330"/></g>
<g font-size="70" font-weight="bold" text-anchor="end" fill="#000"><text x="219.5" y="1277.2">0</text><text x="219.5" y="1105.8">10</text><text x="219.5" y="934.4">20</text><text x="219.5" y="763.0">30</text><text x="219.5" y="591.6">40</text><text x="219.5" y="420.3">50</text><text x="219.5" y="248.9">60</text><text x="219.5" y="77.5">70</text></g>
<g font-size="70" font-weight="bold" text-anchor="middle" fill="#000"><text x="293.8" y="1422">200</text><text x="548.8" y="1422">300</text><text x="803.8" y="1422">400</text><text x="1058.8" y="1422">500</text><text x="1313.8" y="1422">600</text><text x="1568.8" y="1422">700</text><text x="1823.8" y="1422">800</text></g>
<text x="1128" y="1520" font-size="80" font-weight="bold" text-anchor="middle" fill="#000">Wavelength(nm)</text>
<text transform="translate(90.5,694.5) rotate(-90)" x="0" y="0" font-size="80" font-weight="bold" text-anchor="middle" fill="#000">Transmission(%)</text>
<line x1="355.5" y1="167" x2="515.8" y2="167" stroke="#0000ff" stroke-width="8.2"/>
<line x1="355.5" y1="269" x2="513.9" y2="269" stroke="#ff0000" stroke-width="10"/>
<text x="526.5" y="189" font-size="68" fill="#0000ff">S<tspan font-size="42" x="565.5" y="212">0</tspan></text>
<text x="526.5" y="293" font-size="68" fill="#ff0000">S<tspan font-size="42" x="565" y="315">3</tspan></text>
</svg>
</body></html>
